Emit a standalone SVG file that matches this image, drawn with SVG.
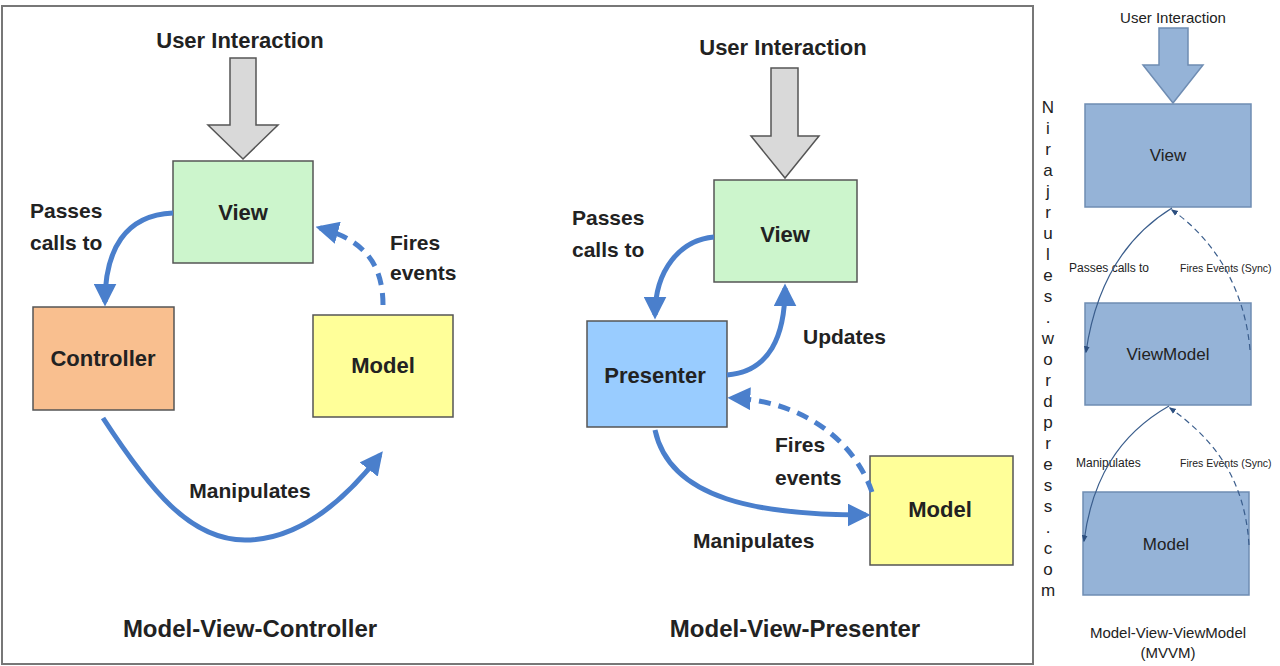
<svg xmlns="http://www.w3.org/2000/svg" width="1280" height="666" viewBox="0 0 1280 666">
<defs>
<style>
.b{font-family:"Liberation Sans",Arial,sans-serif;font-weight:bold;fill:#222}
.n{font-family:"Liberation Sans",Arial,sans-serif;fill:#222}
.box{stroke:#555;stroke-width:1.5}
.vm{fill:#95b3d7;stroke:#6f8db3;stroke-width:1.5}
.ar{fill:none;stroke:#4a7fcc;stroke-width:5}
.ard{fill:none;stroke:#4a7fcc;stroke-width:5;stroke-dasharray:12,8}
.thin{fill:none;stroke:#3a5d8c;stroke-width:1.2}
.thind{fill:none;stroke:#3a5d8c;stroke-width:1.2;stroke-dasharray:6,4}
</style>
<marker id="m" viewBox="0 0 10 10" refX="8" refY="5" markerWidth="4.6" markerHeight="4.6" orient="auto"><path d="M0,0L10,5L0,10z" fill="#4a7fcc"/></marker>
<marker id="s" viewBox="0 0 10 10" refX="8" refY="5" markerWidth="6" markerHeight="6" orient="auto"><path d="M0,1L10,5L0,9z" fill="#2d4f7f"/></marker>
</defs>
<rect width="1280" height="666" fill="#fff"/>
<rect x="2" y="6" width="1031" height="658" fill="none" stroke="#777" stroke-width="2"/>

<g id="mvc-input"><text class="b" x="240" y="48" font-size="22" text-anchor="middle">User Interaction</text>
<path d="M230,58H256V125H278L243,159L208,125H230Z" fill="#d9d9d9" stroke="#555" stroke-width="1.5"/></g>
<g id="mvc-view"><rect class="box" x="173" y="161" width="140" height="102" fill="#ccf5cc"/><text class="b" x="243" y="220" font-size="22" text-anchor="middle">View</text></g>
<g id="mvc-controller"><rect class="box" x="33" y="307" width="141" height="103" fill="#f9bf8f"/><text class="b" x="103" y="366" font-size="22" text-anchor="middle">Controller</text></g>
<g id="mvc-model"><rect class="box" x="313" y="315" width="140" height="102" fill="#ffff99"/><text class="b" x="383" y="373" font-size="22" text-anchor="middle">Model</text></g>
<g id="mvc-labels">
<text class="b" x="30" y="218" font-size="21">Passes</text><text class="b" x="30" y="250" font-size="21">calls to</text>
<text class="b" x="390" y="250" font-size="21">Fires</text><text class="b" x="390" y="280" font-size="21">events</text>
<text class="b" x="250" y="498" font-size="21" text-anchor="middle">Manipulates</text>
<text class="b" x="250" y="637" font-size="24" text-anchor="middle">Model-View-Controller</text></g>

<g id="mvp-input"><text class="b" x="783" y="55" font-size="22" text-anchor="middle">User Interaction</text>
<path d="M771,68H798V136H819L785,178L751,136H771Z" fill="#d9d9d9" stroke="#555" stroke-width="1.5"/></g>
<g id="mvp-view"><rect class="box" x="714" y="180" width="143" height="102" fill="#ccf5cc"/><text class="b" x="785" y="242" font-size="22" text-anchor="middle">View</text></g>
<g id="mvp-presenter"><rect class="box" x="587" y="321" width="140" height="106" fill="#99ccff"/><text class="b" x="655" y="383" font-size="22" text-anchor="middle">Presenter</text></g>
<g id="mvp-model"><rect class="box" x="870" y="456" width="143" height="109" fill="#ffff99"/><text class="b" x="940" y="517" font-size="22" text-anchor="middle">Model</text></g>
<g id="mvp-labels">
<text class="b" x="572" y="225" font-size="21">Passes</text><text class="b" x="572" y="257" font-size="21">calls to</text>
<text class="b" x="803" y="344" font-size="21">Updates</text>
<text class="b" x="775" y="452" font-size="21">Fires</text><text class="b" x="775" y="485" font-size="21">events</text>
<text class="b" x="693" y="548" font-size="21">Manipulates</text>
<text class="b" x="795" y="637" font-size="24" text-anchor="middle">Model-View-Presenter</text></g>

<g id="mvvm-input"><text class="n" x="1173" y="23" font-size="15" text-anchor="middle">User Interaction</text>
<path d="M1159,28H1188V65H1203L1173,103L1143,65H1159Z" fill="#95b3d7" stroke="#6f8db3" stroke-width="1.5"/></g>
<g id="mvvm-view"><rect class="vm" x="1085" y="104" width="166" height="103"/><text class="n" x="1168" y="161" font-size="17" text-anchor="middle">View</text></g>
<g id="mvvm-viewmodel"><rect class="vm" x="1085" y="303" width="166" height="102"/><text class="n" x="1168" y="360" font-size="17" text-anchor="middle">ViewModel</text></g>
<g id="mvvm-model"><rect class="vm" x="1083" y="492" width="166" height="103"/><text class="n" x="1166" y="550" font-size="17" text-anchor="middle">Model</text></g>
<g id="mvvm-labels">
<text class="n" x="1069" y="272" font-size="12">Passes calls to</text>
<text class="n" x="1180" y="272" font-size="10.5">Fires Events (Sync)</text>
<text class="n" x="1076" y="467" font-size="12">Manipulates</text>
<text class="n" x="1180" y="467" font-size="10.5">Fires Events (Sync)</text>
<text class="n" x="1168" y="638" font-size="15" text-anchor="middle">Model-View-ViewModel</text>
<text class="n" x="1168" y="658" font-size="15" text-anchor="middle">(MVVM)</text></g>
<g id="watermark" class="n" font-size="17" text-anchor="middle">
<text x="1048" y="113">N</text><text x="1048" y="134">i</text><text x="1048" y="155">r</text><text x="1048" y="176">a</text><text x="1048" y="197">j</text><text x="1048" y="218">r</text><text x="1048" y="239">u</text><text x="1048" y="260">l</text><text x="1048" y="281">e</text><text x="1048" y="302">s</text><text x="1048" y="323">.</text><text x="1048" y="344">w</text><text x="1048" y="365">o</text><text x="1048" y="386">r</text><text x="1048" y="407">d</text><text x="1048" y="428">p</text><text x="1048" y="449">r</text><text x="1048" y="470">e</text><text x="1048" y="491">s</text><text x="1048" y="512">s</text><text x="1048" y="533">.</text><text x="1048" y="554">c</text><text x="1048" y="575">o</text><text x="1048" y="596">m</text>
</g>

<g id="connectors">
<path class="ar" d="M173,213 C125,215 105,250 105,302" marker-end="url(#m)"/>
<path class="ard" d="M383,305 C383,265 365,240 320,228" marker-end="url(#m)"/>
<path class="ar" d="M103,418 C150,490 190,540 245,540 C300,540 345,500 380,455" marker-end="url(#m)"/>
<path class="ar" d="M714,237 C680,240 655,270 655,315" marker-end="url(#m)"/>
<path class="ar" d="M727,375 C770,372 785,335 785,288" marker-end="url(#m)"/>
<path class="ard" d="M872,492 C850,430 790,400 732,398" marker-end="url(#m)"/>
<path class="ar" d="M655,430 C670,500 760,515 866,515" marker-end="url(#m)"/>
<path class="thin" d="M1172,208 C1120,240 1095,290 1086,352" marker-end="url(#s)"/>
<path class="thind" d="M1250,350 C1245,290 1215,240 1172,210" marker-end="url(#s)"/>
<path class="thin" d="M1169,406 C1118,435 1092,480 1084,541" marker-end="url(#s)"/>
<path class="thind" d="M1249,545 C1245,480 1215,440 1170,408" marker-end="url(#s)"/>
</g>
</svg>
